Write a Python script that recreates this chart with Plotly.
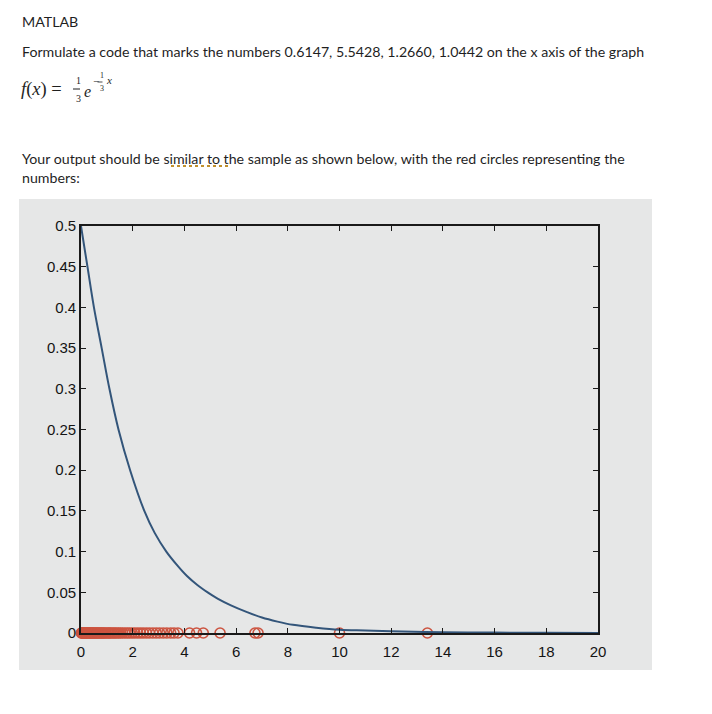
import plotly.graph_objects as go

# =========================
# Datos
# =========================
# curva f(x) (puntos leídos sobre la foto)
CURVA_X = [0, 0.25, 0.5, 0.8, 1.1, 1.45, 1.9, 2.45, 2.85, 3.3, 3.7, 4.1, 4.5, 4.9, 5.3, 5.8,
           6.4, 7.0, 7.6, 8.2, 9.1, 10, 11, 12, 14, 16, 18, 20]
CURVA_Y = [0.5, 0.45, 0.4, 0.35, 0.3, 0.25, 0.2, 0.15, 0.123, 0.1, 0.084, 0.07, 0.059, 0.05, 0.042, 0.034,
           0.026, 0.019, 0.014, 0.01, 0.0065, 0.004, 0.003, 0.002, 0.001, 0.0005, 0.0002, 0.0001]

# círculos rojos sobre el eje x
MARCAS_X = [
    0.01, 0.03, 0.05, 0.07, 0.09, 0.12, 0.14, 0.16, 0.19, 0.21, 0.24, 0.26,
    0.29, 0.32, 0.35, 0.38, 0.41, 0.44, 0.47, 0.50, 0.53, 0.57, 0.6147, 0.64,
    0.68, 0.72, 0.76, 0.80, 0.84, 0.88, 0.93, 0.98, 1.0442, 1.09, 1.14, 1.20,
    1.2660, 1.32, 1.39, 1.46, 1.53, 1.61, 1.70, 1.79, 1.88, 1.98, 2.08, 2.19,
    2.30, 2.41, 2.53, 2.65, 2.78, 2.91, 3.04, 3.18, 3.32, 3.47, 3.6, 3.75,
    4.2, 4.47, 4.73, 5.38, 6.73, 6.85, 10.0, 13.4,
]
MARCAS_Y = [0 for _ in MARCAS_X]

TICKS_X = [0, 2, 4, 6, 8, 10, 12, 14, 16, 18, 20]
TICKS_Y = [0, 0.05, 0.1, 0.15, 0.2, 0.25, 0.3, 0.35, 0.4, 0.45, 0.5]

TEXTO_TITULO = "MATLAB"
TEXTO_ENUNCIADO = "Formulate a code that marks the numbers 0.6147, 5.5428, 1.2660, 1.0442 on the x axis of the graph"
TEXTO_SALIDA_1 = "Your output should be similar to the sample as shown below, with the red circles representing the"
TEXTO_SALIDA_2 = "numbers:"

# =========================
# Geometría de la página (px de la ventana)
# =========================
MARGEN_BODY = 8          # margen por defecto del <body> del navegador
W, H = 712 - MARGEN_BODY, 714 - MARGEN_BODY
X0, X1 = 81, 598   # borde izq/der del área de ejes
Y0, Y1 = 226, 633  # borde sup/inf del área de ejes


def px(xp):
    return (xp - X0) / (X1 - X0)


def py(yp):
    return (Y1 - yp) / (Y1 - Y0)


FUENTE_DOC = "Lato"
FUENTE_MATE = "Liberation Serif"
TAM_DOC = 14.2


def texto(t, x, y, size=TAM_DOC, family=FUENTE_DOC, color="#1f1f1f"):
    return dict(
        text=t, x=px(x), y=py(y), xref="paper", yref="paper",
        xanchor="left", yanchor="middle", showarrow=False,
        font=dict(family=family, size=size, color=color),
    )


fig = go.Figure()

fig.add_trace(go.Scatter(
    x=MARCAS_X, y=MARCAS_Y, mode="markers",
    marker=dict(symbol="circle-open", size=10, color="#cc5440", line=dict(width=1.6)),
    cliponaxis=False, showlegend=False,
))
fig.add_trace(go.Scatter(
    x=CURVA_X, y=CURVA_Y, mode="lines",
    line=dict(color="#33557a", width=2, shape="spline", smoothing=1),
    cliponaxis=False, showlegend=False,
))

anotaciones = [
    texto(TEXTO_TITULO, 20, 21),
    texto(TEXTO_ENUNCIADO, 20, 52),
    texto(TEXTO_SALIDA_1, 20, 158),
    texto(TEXTO_SALIDA_2, 20, 178),
    # f(x) = 1/3 e^(-1/3 x)
    texto("<i>f</i>(<i>x</i>) =", 19, 89, size=18.5, family=FUENTE_MATE),
    texto("1", 73.5, 80, size=10, family=FUENTE_MATE),
    texto("3", 73.5, 98, size=10, family=FUENTE_MATE),
    texto("<i>e</i>", 82, 91, size=16, family=FUENTE_MATE),
    texto("−", 91, 81, size=11, family=FUENTE_MATE),
    texto("1", 98, 76, size=8, family=FUENTE_MATE),
    texto("3", 98, 88, size=8, family=FUENTE_MATE),
    texto("<i>x</i>", 104, 80, size=11, family=FUENTE_MATE),
]

formas = [
    # fondo gris de la foto
    dict(type="rect", xref="paper", yref="paper",
         x0=px(19), x1=px(652), y0=py(670), y1=py(199),
         fillcolor="#e6e7e7", line=dict(width=0), layer="below"),
    # subrayado punteado de "similar to"
    dict(type="line", xref="paper", yref="paper",
         x0=px(171), x1=px(229), y0=py(166), y1=py(166),
         line=dict(color="#c0902c", width=2, dash="dot")),
    # barras de las fracciones
    dict(type="line", xref="paper", yref="paper",
         x0=px(73), x1=px(80), y0=py(89), y1=py(89),
         line=dict(color="#1f1f1f", width=1)),
    dict(type="line", xref="paper", yref="paper",
         x0=px(97.5), x1=px(102.5), y0=py(82), y1=py(82),
         line=dict(color="#1f1f1f", width=0.8)),
]

eje = dict(
    showgrid=False, zeroline=False, showline=True, mirror="ticks",
    linecolor="#1a1a1a", linewidth=1.6, ticks="inside", ticklen=5,
    tickcolor="#1a1a1a", tickwidth=1.2,
    tickfont=dict(family="Liberation Sans", size=15, color="#141414"),
)

fig.update_layout(
    width=W, height=H,
    margin=dict(l=X0 - MARGEN_BODY, r=W - (X1 - MARGEN_BODY),
                t=Y0 - MARGEN_BODY, b=H - (Y1 - MARGEN_BODY), pad=0),
    paper_bgcolor="white",
    plot_bgcolor="#efefef",
    xaxis=dict(eje, range=[0, 20], tickvals=TICKS_X, ticklabelstandoff=4),
    yaxis=dict(eje, range=[0, 0.5], tickvals=TICKS_Y),
    annotations=anotaciones,
    shapes=formas,
)

fig.write_html("out.html")
